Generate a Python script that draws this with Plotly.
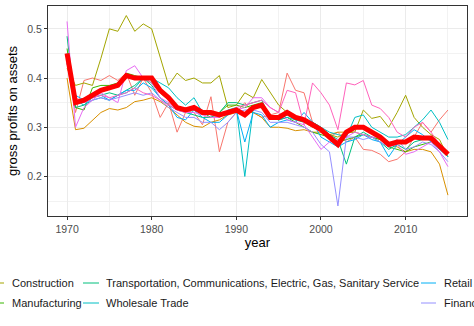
import plotly.graph_objects as go

years = list(range(1970, 2016))

agriculture = [0.43, 0.33, 0.395, 0.40, 0.395, 0.405, 0.395, 0.41, 0.365, 0.40,
               0.37, 0.32, 0.35, 0.29, 0.33, 0.33, 0.305, 0.362, 0.25, 0.31,
               0.33, 0.35, 0.33, 0.32, 0.325, 0.33, 0.41, 0.375, 0.37, 0.31,
               0.30, 0.28, 0.29, 0.27, 0.28, 0.255, 0.253, 0.245, 0.23, 0.235,
               0.25, 0.28, 0.31, 0.29, 0.315, 0.335]
mining = [0.40, 0.295, 0.298, 0.315, 0.33, 0.338, 0.335, 0.34, 0.352, 0.355,
          0.36, 0.352, 0.34, 0.325, 0.31, 0.302, 0.30, 0.31, 0.315, 0.325,
          0.33, 0.33, 0.33, 0.32, 0.30, 0.30, 0.298, 0.293, 0.295, 0.29,
          0.29, 0.285, 0.29, 0.29, 0.29, 0.285, 0.28, 0.275, 0.265, 0.26,
          0.25, 0.255, 0.255, 0.25, 0.225, 0.162]
construction = [0.42, 0.385, 0.39, 0.385, 0.44, 0.50, 0.495, 0.527, 0.495, 0.51,
                0.50, 0.44, 0.385, 0.41, 0.395, 0.40, 0.39, 0.39, 0.405, 0.34,
                0.345, 0.37, 0.36, 0.397, 0.37, 0.345, 0.33, 0.32, 0.31, 0.30,
                0.295, 0.285, 0.28, 0.29, 0.29, 0.335, 0.318, 0.322, 0.30, 0.33,
                0.365, 0.32, 0.30, 0.285, 0.275, 0.24]
manufacturing = [0.46, 0.34, 0.335, 0.38, 0.385, 0.385, 0.39, 0.41, 0.405, 0.40,
                 0.39, 0.37, 0.355, 0.34, 0.33, 0.335, 0.33, 0.32, 0.33, 0.345,
                 0.345, 0.34, 0.345, 0.35, 0.32, 0.315, 0.32, 0.31, 0.30, 0.29,
                 0.285, 0.28, 0.27, 0.275, 0.28, 0.285, 0.28, 0.275, 0.26, 0.255,
                 0.25, 0.26, 0.265, 0.27, 0.26, 0.245]
transportation = [0.485, 0.34, 0.345, 0.36, 0.365, 0.37, 0.365, 0.375, 0.385, 0.40,
                  0.385, 0.36, 0.345, 0.335, 0.33, 0.325, 0.32, 0.32, 0.33, 0.35,
                  0.35, 0.345, 0.35, 0.355, 0.32, 0.315, 0.325, 0.315, 0.31, 0.31,
                  0.30, 0.285, 0.275, 0.225, 0.28, 0.29, 0.28, 0.27, 0.255, 0.265,
                  0.255, 0.27, 0.275, 0.28, 0.26, 0.24]
wholesale = [0.45, 0.355, 0.345, 0.355, 0.36, 0.355, 0.365, 0.37, 0.38, 0.40,
             0.40, 0.39, 0.38, 0.36, 0.345, 0.36, 0.33, 0.325, 0.32, 0.335,
             0.34, 0.20, 0.34, 0.345, 0.32, 0.315, 0.32, 0.315, 0.315, 0.31,
             0.30, 0.29, 0.285, 0.28, 0.32, 0.325, 0.30, 0.29, 0.28, 0.28,
             0.285, 0.30, 0.315, 0.335, 0.31, 0.275]
retail = [0.43, 0.365, 0.355, 0.36, 0.365, 0.355, 0.365, 0.375, 0.375, 0.39,
          0.38, 0.36, 0.345, 0.32, 0.315, 0.335, 0.32, 0.31, 0.31, 0.325,
          0.335, 0.27, 0.33, 0.325, 0.30, 0.31, 0.315, 0.31, 0.33, 0.31,
          0.28, 0.27, 0.26, 0.27, 0.275, 0.285, 0.275, 0.27, 0.24, 0.265,
          0.28, 0.295, 0.285, 0.27, 0.255, 0.24]
finance = [0.43, 0.355, 0.35, 0.355, 0.36, 0.355, 0.36, 0.365, 0.37, 0.365,
           0.37, 0.355, 0.34, 0.33, 0.32, 0.32, 0.31, 0.31, 0.295, 0.31,
           0.33, 0.335, 0.335, 0.33, 0.31, 0.31, 0.31, 0.305, 0.30, 0.29,
           0.265, 0.25, 0.14, 0.28, 0.28, 0.275, 0.28, 0.27, 0.26, 0.275,
           0.255, 0.26, 0.27, 0.265, 0.25, 0.23]
services = [0.515, 0.30, 0.34, 0.355, 0.37, 0.36, 0.35, 0.415, 0.425, 0.40,
            0.39, 0.36, 0.35, 0.335, 0.33, 0.33, 0.325, 0.32, 0.32, 0.33,
            0.335, 0.34, 0.36, 0.36, 0.34, 0.33, 0.315, 0.31, 0.305, 0.28,
            0.255, 0.27, 0.275, 0.28, 0.29, 0.285, 0.28, 0.28, 0.26, 0.265,
            0.245, 0.25, 0.26, 0.27, 0.25, 0.22]
public_admin = [0.44, 0.36, 0.35, 0.36, 0.365, 0.36, 0.365, 0.37, 0.38, 0.37,
                0.365, 0.355, 0.345, 0.335, 0.33, 0.335, 0.33, 0.325, 0.32, 0.33,
                0.34, 0.345, 0.35, 0.355, 0.34, 0.33, 0.375, 0.37, 0.305, 0.39,
                0.37, 0.345, 0.295, 0.39, 0.386, 0.395, 0.345, 0.338, 0.32, 0.29,
                0.28, 0.30, 0.31, 0.29, 0.265, 0.25]
average = [0.45, 0.35, 0.355, 0.365, 0.375, 0.38, 0.385, 0.405, 0.40, 0.40,
           0.40, 0.375, 0.36, 0.34, 0.335, 0.34, 0.33, 0.33, 0.325, 0.33,
           0.335, 0.325, 0.34, 0.345, 0.32, 0.32, 0.33, 0.32, 0.315, 0.305,
           0.295, 0.28, 0.265, 0.29, 0.30, 0.30, 0.29, 0.28, 0.265, 0.27,
           0.27, 0.28, 0.278, 0.278, 0.262, 0.245]

industries = ["Agriculture, Forestry, Fishing", "Mining", "Construction", "Manufacturing",
              "Transportation, Communications, Electric, Gas, Sanitary Service",
              "Wholesale Trade", "Retail Trade", "Finance, Insurance, Real Estate",
              "Services", "Public Administration"]
series = [agriculture, mining, construction, manufacturing, transportation,
          wholesale, retail, finance, services, public_admin]
colors = ["#F8766D", "#D89000", "#A3A500", "#39B600", "#00BF7D",
          "#00BFC4", "#00B0F6", "#9590FF", "#E76BF3", "#FF62BC"]

W, H = 474, 326
L, R, T, B = 48, 7, 6, 110
PW, PH = W - L - R, H - T - B

def px(x):
    return (x - L) / PW

def py(y):
    return (H - B - y) / PH

fig = go.Figure()
for name, vals, col in zip(industries, series, colors):
    fig.add_trace(go.Scatter(x=years, y=vals, mode="lines", name=name,
                             line=dict(color=col, width=1), showlegend=False))
fig.add_trace(go.Scatter(x=years, y=average, mode="lines", name="Average",
                         line=dict(color="#FF0000", width=5), showlegend=False))

# manual ggplot-style legend (two rows, column-major, centered and cropped at the edges)
legend_cols = [
    (-12, 4, 9.5, [2, 3]),
    (83, 99, 104, [4, 5]),
    (421, 436, 441.5, [6, 7]),
]
rows_y = [283, 303]
shapes = []
annotations = []
for k0, k1, tx, idxs in legend_cols:
    for r, i in enumerate(idxs):
        yy = rows_y[r]
        shapes.append(dict(type="line", xref="paper", yref="paper",
                           x0=px(k0), x1=px(k1), y0=py(yy), y1=py(yy),
                           line=dict(color=colors[i], width=1)))
        annotations.append(dict(text=industries[i], xref="paper", yref="paper",
                                x=px(tx), y=py(yy), xanchor="left", yanchor="middle",
                                showarrow=False,
                                font=dict(size=11, color="#1A1A1A",
                                          family="Liberation Sans, Arial, sans-serif")))

axis_common = dict(showline=True, mirror=True, linecolor="#333333", linewidth=1,
                   ticks="outside", ticklen=3, tickcolor="#333333", tickwidth=1,
                   showgrid=True, gridcolor="#EBEBEB", gridwidth=1, zeroline=False,
                   tickfont=dict(size=10.5, color="#4D4D4D",
                                 family="Liberation Sans, Arial, sans-serif"),
                   automargin=False)

fig.update_layout(
    width=W, height=H,
    margin=dict(l=L, r=R, t=T, b=B),
    paper_bgcolor="white", plot_bgcolor="white",
    shapes=shapes, annotations=annotations,
    xaxis=dict(range=[1967.75, 2017.25], tickvals=[1970, 1980, 1990, 2000, 2010],
               minor=dict(tickvals=[1975, 1985, 1995, 2005, 2015], showgrid=True,
                          gridcolor="#F2F2F2", gridwidth=1, ticks=""),
               title=dict(text="year", standoff=4,
                          font=dict(size=13, color="#000000",
                                    family="Liberation Sans, Arial, sans-serif")),
               **axis_common),
    yaxis=dict(range=[0.1196, 0.5464], tickvals=[0.2, 0.3, 0.4, 0.5],
               ticktext=["0.2", "0.3", "0.4", "0.5"],
               minor=dict(tickvals=[0.15, 0.25, 0.35, 0.45], showgrid=True,
                          gridcolor="#F2F2F2", gridwidth=1, ticks=""),
               title=dict(text="gross profits on assets", standoff=6,
                          font=dict(size=13, color="#000000",
                                    family="Liberation Sans, Arial, sans-serif")),
               **axis_common),
)

fig.write_html("out.html")
